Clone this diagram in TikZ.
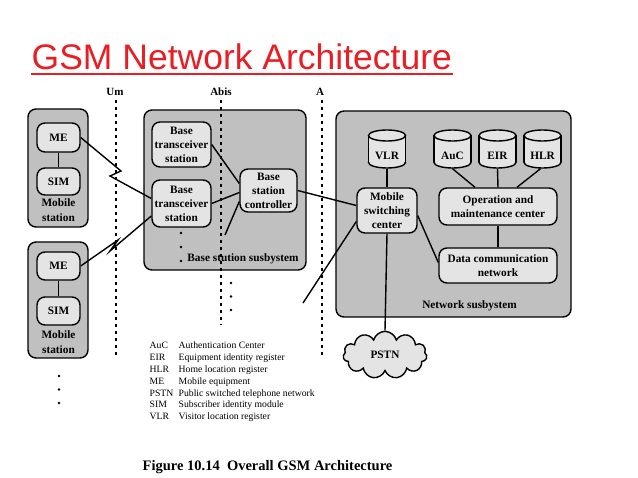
\documentclass[tikz,border=0pt]{standalone}
\usepackage{fontspec}
\setmainfont{Liberation Serif}
\newfontfamily\titlefont{Liberation Sans}
\usetikzlibrary{shapes.symbols}
\definecolor{outerg}{RGB}{192,192,192}
\definecolor{innerg}{RGB}{228,228,228}
\definecolor{titlered}{RGB}{232,30,36}
\newcommand\dbcyl[3]{%
  \draw[fill=innerg] (#2,162.5) ellipse [x radius=18.5pt, y radius=5.5pt];
  \fill[innerg] (#2-18.5,135.5) rectangle (#2+18.5,162.5);
  \draw (#2-18.5,135.5) -- (#2-18.5,162.5) (#2+18.5,135.5) -- (#2+18.5,162.5);
  \draw[fill=innerg] (#2,135.5) ellipse [x radius=18.5pt, y radius=5.5pt];
  \node[inner sep=0pt, minimum width=37pt, minimum height=38pt] (#1) at (#2,149) {};
  \node[lbl] at (#2,156) {#3};
}
\begin{document}
\begin{tikzpicture}[x=1pt,y=-1pt,line width=1.4pt,
  lbl/.style={font=\fontsize{11.3}{14}\selectfont\bfseries, align=center, inner sep=0pt},
  outerbox/.style={draw, fill=outerg, rounded corners=8pt, inner sep=0pt},
  innerbox/.style={draw, fill=innerg, rounded corners=8pt, inner sep=0pt, lbl},
  ifl/.style={font=\fontsize{11}{13}\selectfont\bfseries, inner sep=0pt},
  iface/.style={line width=1.5pt, dash pattern=on 3.5pt off 3.5pt},
  conn/.style={line width=1.4pt},
  leg/.style={font=\fontsize{9.7}{11.9}\selectfont, anchor=base west, inner sep=0pt},
  dot/.style={circle, fill, inner sep=0pt, minimum size=2.8pt}]
\useasboundingbox (0,0) rectangle (638,478);

% title
\node[anchor=base west, inner sep=0pt, text=titlered, font=\titlefont\fontsize{35.5}{40}\selectfont] (title) at (31,70) {GSM Network Architecture};
\draw[titlered, line width=2pt] (title.base west |- 0,74.5) -- (title.base east |- 0,74.5);

% interface labels and dashed lines
\node[ifl] (um) at (115,92) {Um};
\node[ifl] (abis) at (221,92) {Abis};
\node[ifl] (a) at (320,92) {A};
\coordinate (umtop) at (116,100); \coordinate (umbot) at (116,357);
\coordinate (atop) at (322,100); \coordinate (abot) at (322,357);
\draw[iface] (umtop) -- (umbot);
\draw[iface] (atop) -- (abot);

% mobile stations
\node[outerbox, minimum width=60pt, minimum height=118pt] (ms1) at (58,168) {};
\node[innerbox, minimum width=43pt, minimum height=29pt] (me1) at (58.5,137.5) {ME};
\node[innerbox, minimum width=43pt, minimum height=27pt] (sim1) at (58.5,181.5) {SIM};
\node[lbl, font=\fontsize{11.3}{15}\selectfont\bfseries] (ms1t) at (58.5,210.5) {Mobile\\station};
\draw[conn] (me1) -- (sim1);

\node[outerbox, minimum width=60pt, minimum height=116pt] (ms2) at (58,300) {};
\node[innerbox, minimum width=43pt, minimum height=28pt] (me2) at (58.5,266) {ME};
\node[innerbox, minimum width=43pt, minimum height=28pt] (sim2) at (58.5,311) {SIM};
\node[lbl, font=\fontsize{11.3}{15}\selectfont\bfseries] (ms2t) at (58.5,342.5) {Mobile\\station};
\draw[conn] (me2) -- (sim2);
\foreach \yy in {376,389.5,403} \node[dot] at (59,\yy) {};

% base station subsystem
\node[outerbox, minimum width=162pt, minimum height=160pt] (bss) at (225,190) {};
\coordinate (abistop) at (221,100); \coordinate (abisbot) at (221,325);
\draw[iface] (abistop) -- (abisbot);
\node[innerbox, minimum width=59pt, minimum height=45pt] (bts1) at (181.5,144.5) {Base\\transceiver\\station};
\node[innerbox, minimum width=59pt, minimum height=47pt] (bts2) at (181.5,203.5) {Base\\transceiver\\station};
\node[innerbox, minimum width=57pt, minimum height=43pt] (bsc) at (268.5,190.5) {Base\\station\\controller};
\node[lbl] (bsst) at (243,259) {Base stution susbystem};
\foreach \yy in {233,247,261} \node[dot] at (181,\yy) {};
\foreach \yy in {283,296.5,310} \node[dot] at (231,\yy) {};
\coordinate (bscfree) at (225,235);
\draw[conn] (bts1.east) -- ([yshift=7pt]bsc.west);
\draw[conn] (bts2.east) -- ([yshift=-2pt]bsc.west);
\draw[conn] ([yshift=-11pt]bsc.west) -- (bscfree);

% radio links
\coordinate (z1a) at (121,171); \coordinate (z1b) at (110,176);
\coordinate (z2a) at (118,240); \coordinate (z2b) at (110,251);
\draw[conn, line join=miter] (me1.east) -- (z1a) -- (z1b) -- ([yshift=5pt]bts2.west);
\draw[conn, line join=miter] (me2.east) -- (z2a) -- (z2b) -- ([yshift=-12.5pt]bts2.west);

% network subsystem
\node[outerbox, minimum width=235pt, minimum height=206pt] (nss) at (453.5,214) {};
\dbcyl{vlr}{387}{VLR}
\dbcyl{auc}{452.5}{AuC}
\dbcyl{eir}{497.5}{EIR}
\dbcyl{hlr}{542.5}{HLR}
\node[innerbox, minimum width=60pt, minimum height=45pt] (msc) at (387,210.5) {Mobile\\switching\\center};
\node[innerbox, minimum width=118pt, minimum height=37pt] (omc) at (498,206.5) {Operation and\\maintenance center};
\node[innerbox, minimum width=118pt, minimum height=35pt] (dcn) at (498,265.5) {Data communication\\network};
\node[lbl] (nsst) at (469.5,305.5) {Network susbystem};
\draw[conn] (vlr.south) -- (msc.north);
\draw[conn] (auc.south) -- ([xshift=-23pt]omc.north);
\draw[conn] (eir.south) -- (omc.north);
\draw[conn] ([xshift=-2pt]hlr.south) -- ([xshift=19pt]omc.north);
\draw[conn] (omc.south) -- (dcn.north);
\draw[conn] ([yshift=-5pt]msc.east) -- ([yshift=3pt]dcn.west);
\draw[conn] (bsc.east) -- ([yshift=5pt]msc.west);
\coordinate (mscfree) at (303,303);
\draw[conn] ([yshift=-11pt]msc.west) -- (mscfree);

% PSTN
\node[cloud, cloud puffs=11, cloud ignores aspect, draw, fill=innerg, lbl, inner xsep=14pt, inner ysep=7.2pt] (pstn) at (385,355) {PSTN};
\draw[conn] (msc.south) -- (pstn.north);

% legend
\foreach \ab/\txt [count=\i from 0] in {AuC/Authentication Center, EIR/Equipment identity register, HLR/Home location register, ME/Mobile equipment, PSTN/Public switched telephone network, SIM/Subscriber identity module, VLR/Visitor location register} {
  \node[leg] (lega\i) at (149,348.5+11.9*\i) {\ab};
  \node[leg] (legt\i) at (178,348.5+11.9*\i) {\txt};
}

% caption
\node[anchor=base west, inner sep=0pt, font=\fontsize{14.5}{17}\selectfont\bfseries] (cap) at (142,471) {Figure 10.14\ \ Overall GSM Architecture};
\end{tikzpicture}
\end{document}
